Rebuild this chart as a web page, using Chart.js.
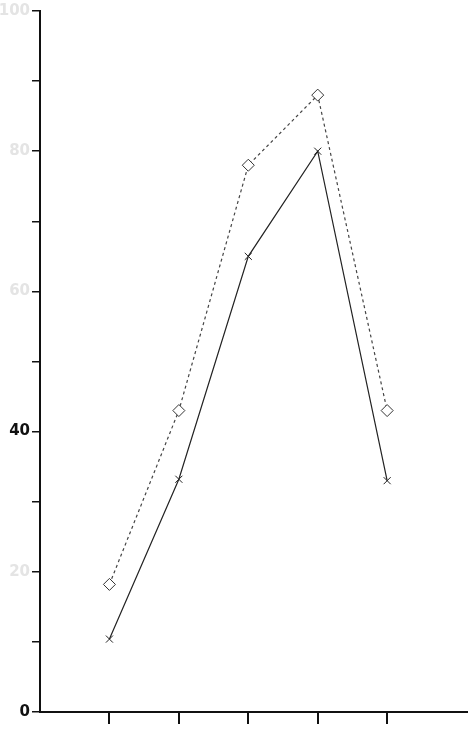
<!DOCTYPE html>
<html>
<head>
<script src="https://cdn.jsdelivr.net/npm/chart.js@4"></script>
<style>
html, body { margin: 0; padding: 0; background: #fff; }
#wrap { position: relative; width: 474px; height: 733px; }
</style>
</head>
<body>
<div id="wrap"><canvas id="c"></canvas></div>
<script>
const xPositions = [1, 2, 3, 4, 5]
const solidSeries = [10.4, 33.2, 65, 80, 33]
const dashedSeries = [18.2, 43, 78, 88, 43]
const yTickLabels = { 0: '0', 20: '20', 40: '40', 60: '60', 80: '80', 100: '100' }
const darkLabels = [0, 40]

const toPoints = (vals) => vals.map((v, i) => ({ x: xPositions[i], y: v }))

new Chart(document.getElementById('c'), {
    type: 'line',
    data: {
        datasets: [{
            label: 'solid',
            data: toPoints(solidSeries),
            borderColor: '#222',
            borderWidth: 1.2,
            pointStyle: 'crossRot',
            pointRadius: 5,
            pointBorderColor: '#222',
            pointBorderWidth: 1,
            tension: 0
        }, {
            label: 'dashed',
            data: toPoints(dashedSeries),
            borderColor: '#444',
            borderWidth: 1.2,
            borderDash: [3, 3],
            pointStyle: 'rectRot',
            pointRadius: 6,
            pointBackgroundColor: '#fff',
            pointBorderColor: '#333',
            pointBorderWidth: 1,
            tension: 0
        }]
    },
    options: {
        responsive: true,
        maintainAspectRatio: false,
        animation: false,
        layout: { padding: { top: 4, right: 4, left: 0, bottom: 0 } },
        plugins: { legend: { display: false }, tooltip: { enabled: false } },
        scales: {
            x: {
                type: 'linear',
                min: 0,
                max: 6.15,
                afterBuildTicks: (axis) => { axis.ticks = xPositions.map(v => ({ value: v })) },
                afterFit: (axis) => { axis.height = 21 },
                border: { color: '#111', width: 2 },
                grid: { drawOnChartArea: false, tickLength: 12, color: '#111', lineWidth: 2 },
                ticks: { display: false }
            },
            y: {
                min: 0,
                max: 100,
                afterBuildTicks: (axis) => {
                    const t = []
                    for (let v = 0; v <= 100; v += 10) t.push({ value: v })
                    axis.ticks = t
                },
                afterFit: (axis) => { axis.width = 40 },
                border: { color: '#111', width: 2 },
                grid: { drawOnChartArea: false, tickLength: 8, color: '#111', lineWidth: 1.5 },
                ticks: {
                    autoSkip: false,
                    padding: 2,
                    color: (ctx) => darkLabels.includes(ctx.tick.value) ? '#111' : '#e4e4e4',
                    font: { family: 'DejaVu Sans', size: 15, weight: 'bold' },
                    callback: (v) => yTickLabels[v] ?? ''
                }
            }
        }
    }
})
</script>
</body>
</html>
